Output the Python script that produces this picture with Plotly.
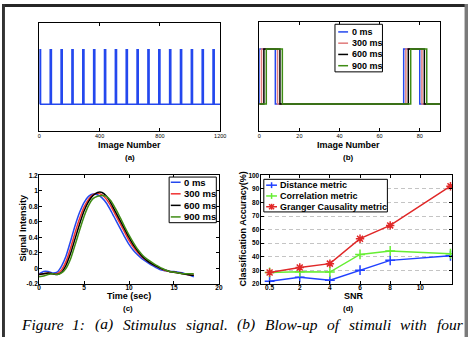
import plotly.graph_objects as go

W, H = 474, 340

# ---------------- data ----------------
# (a) stimulus train: pulse onsets (image index) and pulse length
stim_onsets = [0, 72, 144, 216, 288, 360, 432, 504, 576, 648, 720, 792,
               864, 936, 1008, 1080, 1152]
stim_width = 8
n_images = 1200

# (b) delayed copies of the stimulus (shift in images)
delay_names = ["0 ms", "300 ms", "600 ms", "900 ms"]
delay_shift = [0, 1.1, 2.3, 3.5]

# (c) measured responses
hrf_time = [0, 0.5, 1, 1.5, 2, 2.5, 3, 3.5, 4, 4.5, 5, 5.5, 6, 6.5, 7, 7.5, 8,
            8.5, 9, 9.5, 10, 10.5, 11, 11.5, 12, 12.5, 13, 13.5, 14, 14.5, 15,
            15.5, 16, 16.5, 17, 17.2]
hrf_0ms = [-0.07, -0.04, -0.04, -0.06, -0.05, 0.03, 0.16, 0.35, 0.55, 0.72,
           0.85, 0.93, 0.96, 0.95, 0.91, 0.84, 0.74, 0.63, 0.52, 0.41, 0.31,
           0.23, 0.17, 0.12, 0.08, 0.04, 0.01, -0.02, -0.03, -0.04, -0.04,
           -0.05, -0.06, -0.08, -0.10, -0.11]
hrf_300ms = [-0.08, -0.07, -0.06, -0.07, -0.07, -0.02, 0.09, 0.26, 0.46, 0.64,
             0.79, 0.89, 0.95, 0.97, 0.95, 0.89, 0.80, 0.69, 0.58, 0.47, 0.36,
             0.27, 0.20, 0.14, 0.10, 0.06, 0.03, 0.00, -0.03, -0.04, -0.05,
             -0.06, -0.07, -0.08, -0.09, -0.09]
hrf_600ms = [-0.08, -0.07, -0.06, -0.07, -0.08, -0.05, 0.04, 0.19, 0.38, 0.57,
             0.74, 0.86, 0.94, 0.98, 0.98, 0.93, 0.84, 0.73, 0.62, 0.51, 0.40,
             0.30, 0.22, 0.15, 0.10, 0.06, 0.03, 0.00, -0.02, -0.04, -0.05,
             -0.06, -0.07, -0.08, -0.09, -0.09]
hrf_900ms = [-0.11, -0.10, -0.08, -0.07, -0.08, -0.06, 0.00, 0.12, 0.30, 0.49,
             0.67, 0.81, 0.90, 0.93, 0.94, 0.93, 0.87, 0.77, 0.66, 0.54, 0.43,
             0.33, 0.24, 0.17, 0.12, 0.08, 0.04, 0.01, -0.02, -0.04, -0.05,
             -0.06, -0.07, -0.07, -0.07, -0.07]

# (d) classification accuracy vs SNR
snr_labels = ["0.5", "2", "4", "6", "8", "10"]
snr_ticks = [1, 2, 3, 4, 5, 6]
snr_x = [1, 2, 3, 4, 5, 7]
acc_distance = [21.9, 24.8, 22.6, 30.1, 37.3, 40.7]
acc_correlation = [28.4, 28.9, 28.7, 41.7, 44.3, 42.2]
acc_granger = [28.4, 32.0, 34.9, 53.3, 63.1, 92.0]
metric_names = ["Distance metric", "Correlation metric", "Granger Causality metric"]

# ---------------- styling ----------------
BLUE = "#2448ee"
RED_B = "#e07a7a"
RED = "#f03030"
BLACK = "#000000"
GREEN = "#3f8c14"
BLUE_D = "#2040ff"
GREEN_D = "#66ee33"
RED_D = "#e02828"
SANS = "Liberation Sans, Arial, sans-serif"
SERIF = "Liberation Serif, Times New Roman, serif"


def fx(x):
    return x / W


def fy(y):
    return 1 - y / H


def step_series(onsets, width, end):
    xs, ys = [0], [0]
    for o in onsets:
        xs += [o, o, o + width, o + width]
        ys += [0, 1, 1, 0]
    xs.append(end)
    ys.append(0)
    return xs, ys


fig = go.Figure()

# (a) full stimulus signal
xa, ya = step_series(stim_onsets, stim_width, n_images)
fig.add_trace(go.Scatter(x=xa, y=ya, mode="lines", name="stimulus",
                         line=dict(color=BLUE, width=1.5),
                         xaxis="x", yaxis="y", showlegend=False))

# (b) blow-up of the delayed stimuli
colors_b = [BLUE, RED_B, BLACK, GREEN]
for name, d, c in zip(delay_names, delay_shift, colors_b):
    xb, yb = step_series([o + d for o in stim_onsets], stim_width, n_images)
    fig.add_trace(go.Scatter(x=xb, y=yb, mode="lines", name=name,
                             line=dict(color=c, width=1.5),
                             xaxis="x2", yaxis="y2", showlegend=False))

# (c) responses
colors_c = [BLUE, RED, BLACK, GREEN]
for name, vals, c in zip(delay_names, [hrf_0ms, hrf_300ms, hrf_600ms, hrf_900ms], colors_c):
    fig.add_trace(go.Scatter(x=hrf_time, y=vals, mode="lines", name=name,
                             line=dict(color=c, width=1.5, shape="spline", smoothing=0.6),
                             xaxis="x3", yaxis="y3", showlegend=False))

# (d) accuracy curves
specs_d = [(acc_distance, BLUE_D, "cross-thin-open"),
           (acc_correlation, GREEN_D, "cross-thin-open"),
           (acc_granger, RED_D, "asterisk-open")]
for name, (vals, c, sym) in zip(metric_names, specs_d):
    fig.add_trace(go.Scatter(x=snr_x, y=vals, mode="lines+markers", name=name,
                             line=dict(color=c, width=1.5),
                             marker=dict(symbol=sym, size=7, color=c,
                                         line=dict(color=c, width=1.5)),
                             xaxis="x4", yaxis="y4", showlegend=False))

frame = dict(showline=True, linecolor="black", linewidth=1, mirror="ticks",
             ticks="inside", ticklen=3, tickcolor="black", showgrid=False,
             zeroline=False)

fig.update_layout(
    width=W, height=H, autosize=False,
    margin=dict(l=0, r=0, t=0, b=0),
    paper_bgcolor="white", plot_bgcolor="white",
    showlegend=False,
    xaxis=dict(frame, domain=[fx(38), fx(222)], anchor="y", range=[0, 1200],
               tickvals=[0, 400, 800, 1200], ticklabelstandoff=-1,
               tickfont=dict(family=SANS, size=5.5, color="black")),
    yaxis=dict(frame, domain=[fy(130), fy(19)], anchor="x", range=[-0.5, 1.5],
               showticklabels=False, ticks="", mirror=True),
    xaxis2=dict(frame, domain=[fx(261.7), fx(445.3)], anchor="y2", range=[0, 90],
                tickvals=[0, 20, 40, 60, 80], ticklabelstandoff=-1,
                tickfont=dict(family=SANS, size=5.5, color="black")),
    yaxis2=dict(frame, domain=[fy(130), fy(18)], anchor="x2", range=[-0.5, 1.5],
                showticklabels=False, ticks="", mirror=True),
    xaxis3=dict(frame, domain=[fx(37.7), fx(220.7)], anchor="y3", range=[0, 20],
                tickvals=[0, 5, 10, 15, 20], ticklabelstandoff=-3,
                tickfont=dict(family=SANS, size=6.5, color="black", weight="bold")),
    yaxis3=dict(frame, domain=[fy(285.7), fy(175)], anchor="x3", range=[-0.2, 1.2],
                tickvals=[-0.2, 0, 0.2, 0.4, 0.6, 0.8, 1, 1.2],
                ticktext=["-0.2", "0", "0.2", "0.4", "0.6", "0.8", "1", "1.2"],
                ticklabelstandoff=-1,
                tickfont=dict(family=SANS, size=6.5, color="black", weight="bold")),
    xaxis4=dict(frame, domain=[fx(263), fx(457.7)], anchor="y4", range=[0.7, 7.05],
                tickvals=snr_ticks, ticktext=snr_labels, ticklabelstandoff=-3,
                tickfont=dict(family=SANS, size=6.5, color="black", weight="bold")),
    yaxis4=dict(frame, domain=[fy(285.7), fy(175)], anchor="x4", range=[20, 100],
                dtick=10, showgrid=True, gridcolor="#c4c4c4", gridwidth=1,
                griddash="4px,3px", ticklabelstandoff=-1,
                tickfont=dict(family=SANS, size=6.5, color="black", weight="bold")),
)

shapes = []
annotations = []


def text(x, y, s, size, bold=True, angle=0, xanchor="center", family=SANS, italic=False):
    annotations.append(dict(
        x=fx(x), y=fy(y), xref="paper", yref="paper", text=s, showarrow=False,
        xanchor=xanchor, yanchor="middle", textangle=angle,
        font=dict(family=family, size=size, color="black",
                  weight="bold" if bold else "normal",
                  style="italic" if italic else "normal")))


def seg(x0, y0, x1, y1, color, width=1.5):
    shapes.append(dict(type="line", xref="paper", yref="paper",
                       x0=fx(x0), y0=fy(y0), x1=fx(x1), y1=fy(y1),
                       line=dict(color=color, width=width), layer="above"))


def box(x0, y0, x1, y1):
    shapes.append(dict(type="rect", xref="paper", yref="paper",
                       x0=fx(x0), y0=fy(y0), x1=fx(x1), y1=fy(y1),
                       fillcolor="white", line=dict(color="black", width=1),
                       layer="above"))


# legend of (b)
box(338.7, 20.7, 387, 69.3)
for name, c, yy in zip(delay_names, colors_b, [28.5, 40, 51.5, 63]):
    seg(342, yy, 352, yy, c)
    text(353.7, yy, name, 9, xanchor="left")

# legend of (c)
box(170, 176.7, 218, 223.3)
for name, c, yy in zip(delay_names, colors_c, [182, 193.8, 205.6, 217.4]):
    seg(171.7, yy, 181.7, yy, c)
    text(182.7, yy, name, 9.5, xanchor="left")

# legend of (d)
box(266.3, 179, 392, 212.3)
for (vals, c, sym), name, yy in zip(specs_d, metric_names, [185, 196, 207]):
    seg(268.7, yy, 279.7, yy, c)
    cx = 274.2
    seg(cx, yy - 3, cx, yy + 3, c)
    if sym.startswith("asterisk"):
        seg(cx - 2.5, yy - 2.5, cx + 2.5, yy + 2.5, c)
        seg(cx - 2.5, yy + 2.5, cx + 2.5, yy - 2.5, c)
    text(281, yy, name, 9, xanchor="left")

# axis labels and panel tags
text(130, 143.7, "Image Number", 9)
text(130, 156.7, "(a)", 8)
text(352.5, 143.7, "Image Number", 9)
text(352.5, 156.7, "(b)", 8)
text(129, 298.5, "Time (sec)", 9)
text(128.5, 311, "(c)", 8)
text(358, 298.5, "SNR", 9)
text(352, 311, "(d)", 8)
text(21.7, 229, "Signal Intensity", 9, angle=-90)
text(245.3, 230, "Classification Accuracy(%)", 9, angle=-90)

# caption line (justified)
caption_words = ["Figure", "1:", "(a)", "Stimulus", "signal.", "(b)", "Blow-up",
                 "of", "stimuli", "with", "four"]
caption_left = [17, 69.5, 92.7, 121.1, 184.8, 236.9, 265.3, 328.1, 350.5, 403, 440]
for w, xl in zip(caption_words, caption_left):
    text(xl, 327, w, 15.5, bold=False, xanchor="left", family=SERIF, italic=True)

# page frame strips
for (x0, y0, x1, y1, col) in [(0, 0, 474, 3, "#262626"), (0, 0, 3, 340, "#333333"),
                              (470.5, 0, 474, 340, "#7a7a7a")]:
    shapes.append(dict(type="rect", xref="paper", yref="paper",
                       x0=fx(x0), y0=fy(y1), x1=fx(x1), y1=fy(y0),
                       fillcolor=col, line=dict(width=0), layer="above"))

fig.update_layout(shapes=shapes, annotations=annotations)
fig.write_html("out.html")
